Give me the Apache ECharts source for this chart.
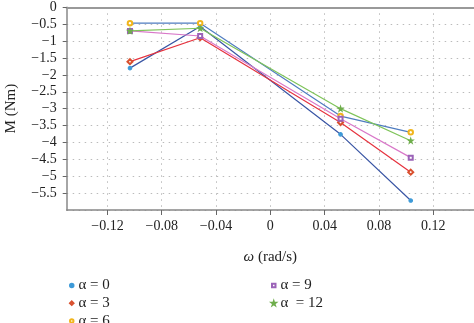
<!DOCTYPE html>
<html>
<head>
<meta charset="utf-8">
<script src="https://cdn.jsdelivr.net/npm/echarts@6/dist/echarts.min.js"></script>
<style>
  html, body { margin: 0; padding: 0; background: #fff; }
  #chart { width: 474px; height: 323px; }
</style>
</head>
<body>
<div id="chart"></div>
<script>
// Angular speed (rad/s) at which the moment was measured
const omega = [-0.1034, -0.0517, 0.0517, 0.1034];

// Moment M (Nm) for each cone angle α
const mAlpha0  = [-1.80, -0.57, -3.76, -5.72];
const mAlpha3  = [-1.61, -0.90, -3.41, -4.88];
const mAlpha6  = [-0.47, -0.47, -3.22, -3.70];
const mAlpha9  = [-0.70, -0.85, -3.30, -4.45];
const mAlpha12 = [-0.70, -0.62, -3.00, -3.95];

const seriesNames = ['α = 0', 'α = 3', 'α = 6', 'α = 9', 'α  = 12'];
const xTickValues = [-0.12, -0.08, -0.04, 0, 0.04, 0.08, 0.12];

const starPath = 'path://M50,0 L61,35 L98,35 L68,57 L79,91 L50,70 L21,91 L32,57 L2,35 L39,35 Z';

const styles = [
  { line: '#3a56a5', mark: '#3d9ad8', symbol: 'circle', size: 3.5 },
  { line: '#e6333f', mark: '#d9502e', symbol: 'emptyDiamond', size: 5 },
  { line: '#4f7cc0', mark: '#f1b51c', symbol: 'emptyCircle', size: 4.5 },
  { line: '#d978c9', mark: '#9b63b8', symbol: 'emptyRect', size: 4 },
  { line: '#7fc45a', mark: '#6fae4c', symbol: starPath, size: 5 }
];

const values = [mAlpha0, mAlpha3, mAlpha6, mAlpha9, mAlpha12];

// legend placement: two columns, rows about 17.7 px apart
const legendSlots = [
  { left: 64, top: 273 }, { left: 64, top: 290.7 }, { left: 64, top: 308.4 },
  { left: 266, top: 273 }, { left: 266, top: 290.7 }
];

const minus = v => String(v).replace('-', '−');
const serif = '"Liberation Serif", "DejaVu Serif", serif';

const series = values.map((vals, i) => ({
  name: seriesNames[i],
  type: 'line',
  data: omega.map((w, k) => [w, vals[k]]),
  symbol: styles[i].symbol,
  symbolSize: styles[i].size,
  showSymbol: true,
  lineStyle: { color: styles[i].line, width: 1.2 },
  itemStyle: { color: styles[i].mark, borderColor: styles[i].mark, borderWidth: 1.1 },
  z: 2 + i,
  animation: false
}));

const legendText = { fontFamily: serif, fontSize: 15, color: '#222' };

const legends = seriesNames.map((n, i) => ({
  data: [{ name: n, icon: styles[i].symbol }],
  left: legendSlots[i].left, top: legendSlots[i].top,
  itemWidth: 3.5, itemHeight: 3.5, itemGap: 0,
  textStyle: legendText, selectedMode: false
}));

const chart = echarts.init(document.getElementById('chart'), null, { renderer: 'canvas' });

chart.setOption({
  animation: false,
  textStyle: { fontFamily: serif },
  grid: {
    left: 66.7, top: 7.3, right: 0, bottom: 113,
    containLabel: false, outerBoundsMode: 'none'
  },
  legend: legends,
  xAxis: [
    {
      type: 'value', min: -0.15, max: 0.15,
      name: '{w|ω} (rad/s)', nameLocation: 'middle', nameGap: 40,
      nameTextStyle: {
        fontFamily: serif, fontSize: 15, color: '#222',
        rich: { w: { fontFamily: serif, fontStyle: 'italic', fontSize: 15, color: '#222' } }
      },
      axisLine: { show: true, onZero: false, lineStyle: { color: '#888', width: 1.5 } },
      axisTick: { show: true, length: 5, customValues: xTickValues, lineStyle: { color: '#666' } },
      axisLabel: {
        customValues: xTickValues, margin: 9,
        fontFamily: serif, fontSize: 14, color: '#222',
        formatter: v => minus(Math.round(v * 100) / 100)
      },
      splitLine: { show: true, lineStyle: { color: '#bbb', type: [1.5, 4.5], width: 1 } }
    },
    {
      type: 'value', position: 'top', min: -0.15, max: 0.15,
      axisLine: { show: true, onZero: false, lineStyle: { color: '#999', width: 2 } },
      axisTick: { show: false }, axisLabel: { show: false }, splitLine: { show: false }
    }
  ],
  yAxis: {
    type: 'value', min: -6, max: 0, interval: 0.5,
    name: 'M (Nm)', nameLocation: 'middle', nameGap: 48,
    nameTextStyle: { fontFamily: serif, fontSize: 15, color: '#222' },
    axisLine: { show: true, onZero: false, lineStyle: { color: '#888', width: 1.5 } },
    axisTick: { show: true, length: 4, lineStyle: { color: '#666' } },
    axisLabel: {
      showMinLabel: false, margin: 10,
      fontFamily: serif, fontSize: 14, color: '#222',
      formatter: v => minus(v)
    },
    splitLine: { show: true, lineStyle: { color: '#bbb', type: [1.5, 4.5], width: 1 } }
  },
  series: series
});
</script>
</body>
</html>
